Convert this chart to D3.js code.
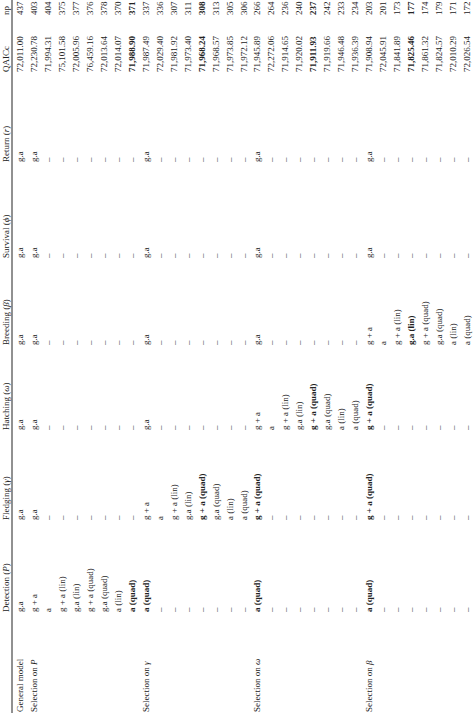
<!DOCTYPE html>
<html><head><meta charset="utf-8">
<script src="https://d3js.org/d3.v7.min.js"></script>
<style>body{margin:0;background:#fff}svg{display:block}</style>
</head><body><svg id="c" width="474" height="713"></svg>
<script>
const headers = ["", "Detection (P)", "Fledging (γ)", "Hatching (ω)", "Breeding (β)", "Survival (ϕ)", "Return (r)", "QAICc", "np"];
const labels = ["General model","Selection on P","","","","","","","","Selection on γ","","","","","","","","Selection on ω","","","","","","","","Selection on β","","","","","","",""];
const D = "–";
const detection = ["g.a","g + a","a","g + a (lin)","g.a (lin)","g + a (quad)","g.a (quad)","a (lin)","a (quad)","a (quad)",D,D,D,D,D,D,D,"a (quad)",D,D,D,D,D,D,D,"a (quad)",D,D,D,D,D,D,D];
const fledging = ["g.a","g.a",D,D,D,D,D,D,D,"g + a","a","g + a (lin)","g.a (lin)","g + a (quad)","g.a (quad)","a (lin)","a (quad)","g + a (quad)",D,D,D,D,D,D,D,"g + a (quad)",D,D,D,D,D,D,D];
const hatching = ["g.a","g.a",D,D,D,D,D,D,D,"g.a",D,D,D,D,D,D,D,"g + a","a","g + a (lin)","g.a (lin)","g + a (quad)","g.a (quad)","a (lin)","a (quad)","g + a (quad)",D,D,D,D,D,D,D];
const breeding = ["g.a","g.a",D,D,D,D,D,D,D,"g.a",D,D,D,D,D,D,D,"g.a",D,D,D,D,D,D,D,"g + a","a","g + a (lin)","g.a (lin)","g + a (quad)","g.a (quad)","a (lin)","a (quad)"];
const survival = ["g.a","g.a",D,D,D,D,D,D,D,"g.a",D,D,D,D,D,D,D,"g.a",D,D,D,D,D,D,D,"g.a",D,D,D,D,D,D,D];
const returnR = survival.slice();
const qaicc = ["72,011.00","72,230.78","71,994.31","75,101.58","72,005.96","76,459.16","72,013.64","72,014.07","71,988.90","71,987.49","72,029.40","71,981.92","71,973.40","71,968.24","71,968.57","71,973.85","71,972.12","71,945.89","72,272.06","71,914.65","71,920.02","71,911.93","71,919.66","71,946.48","71,936.39","71,908.94","72,045.91","71,841.89","71,825.46","71,861.32","71,824.57","72,010.29","72,026.54"];
const np = ["437","403","404","375","377","376","378","370","371","337","336","307","311","308","313","305","306","266","264","236","240","237","242","233","234","203","201","173","177","174","179","171","172"];
const boldCells = [[8,1],[8,7],[8,8],[9,1],[13,2],[13,7],[13,8],[17,1],[17,2],[21,3],[21,7],[21,8],[25,1],[25,2],[25,3],[28,4],[28,7],[28,8]];

const cols = [labels, detection, fledging, hatching, breeding, survival, returnR, qaicc, np];
const colX = [1, 101, 193, 283, 368, 455, 551, 641, 698];
const isBold = new Set(boldCells.map(d => d[0] + "-" + d[1]));

const svg = d3.select("#c");
const g = svg.append("g").attr("transform", "translate(0,713) rotate(-90)")
  .style("font-family", "'Liberation Serif', serif").style("font-size", "9px").attr("fill", "#222");

const y = d3.scaleBand().domain(d3.range(labels.length)).range([13.5, 13.5 + 13.94 * labels.length]);
const x = d3.scaleOrdinal().domain(d3.range(cols.length)).range(colX);

function rich(sel, s) {
  const m = s.match(/^(.*?)([Pγωβϕr])(\)?)$/);
  if (s && m && (s.includes("(") || s.startsWith("Selection"))) {
    sel.append("tspan").text(m[1]);
    sel.append("tspan").attr("font-style", "italic").text(m[2]);
    sel.append("tspan").text(m[3]);
  } else sel.text(s);
}

headers.forEach((h, j) => {
  const t = g.append("text").attr("x", x(j)).attr("y", 9);
  rich(t, h);
});
g.append("line").attr("x1", -5).attr("x2", 720).attr("y1", 12).attr("y2", 12)
  .attr("stroke", "#222").attr("stroke-width", 1);

cols.forEach((arr, j) => {
  g.selectAll(null).data(arr).enter().append("text")
    .attr("x", x(j)).attr("y", (d, i) => y(i) + y.bandwidth() / 2 + 3)
    .attr("font-weight", (d, i) => isBold.has(i + "-" + j) ? "bold" : null)
    .each(function(d) { if (j === 0) rich(d3.select(this), d); else d3.select(this).text(d); });
});
</script></body></html>
